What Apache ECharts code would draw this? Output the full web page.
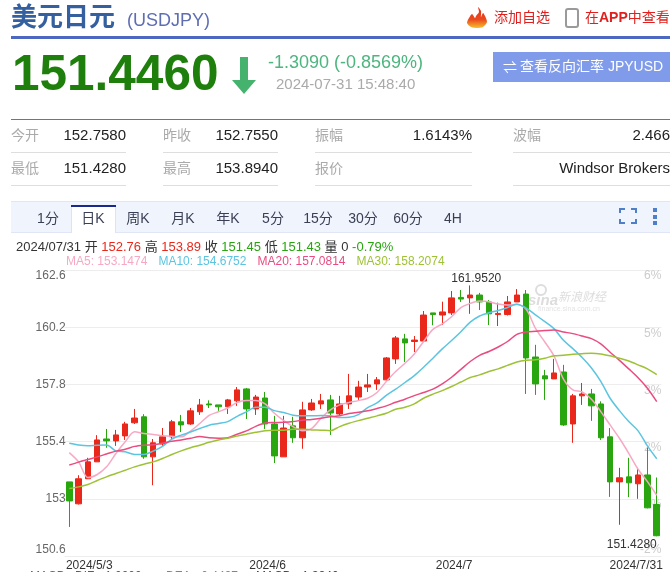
<!DOCTYPE html>
<html><head><meta charset="utf-8">
<style>html,body{margin:0;padding:0;background:#fff;overflow:hidden}#c{width:670px;height:572px}</style>
<script src="https://cdn.jsdelivr.net/npm/echarts@6/dist/echarts.min.js"></script>
</head><body><div id="c"></div>
<script>
const dates=["2024/5/3","2024/5/6","2024/5/7","2024/5/8","2024/5/9","2024/5/10","2024/5/13","2024/5/14","2024/5/15","2024/5/16","2024/5/17","2024/5/20","2024/5/21","2024/5/22","2024/5/23","2024/5/24","2024/5/27","2024/5/28","2024/5/29","2024/5/30","2024/5/31",
"2024/6/3","2024/6/4","2024/6/5","2024/6/6","2024/6/7","2024/6/10","2024/6/11","2024/6/12","2024/6/13","2024/6/14","2024/6/17","2024/6/18","2024/6/19","2024/6/20","2024/6/21","2024/6/24","2024/6/25","2024/6/26","2024/6/27","2024/6/28",
"2024/7/1","2024/7/2","2024/7/3","2024/7/4","2024/7/5","2024/7/8","2024/7/9","2024/7/10","2024/7/11","2024/7/12","2024/7/15","2024/7/16","2024/7/17","2024/7/18","2024/7/19","2024/7/22","2024/7/23","2024/7/24","2024/7/25","2024/7/26","2024/7/29","2024/7/30","2024/7/31"];
const open=[153.71,152.79,153.84,154.55,155.51,155.43,155.64,156.19,156.44,154.76,155.3,155.6,156.23,156.14,156.65,156.98,156.94,156.86,157.11,157.61,156.77,157.23,156.14,154.76,156.06,155.56,156.73,156.98,157.15,156.56,156.98,157.27,157.69,157.82,157.99,158.87,159.71,159.6,159.62,160.8,160.71,160.8,161.45,161.43,161.55,161.26,160.73,160.73,161.26,161.59,158.95,158.16,158.03,158.32,156.14,157.32,157.4,156.98,155.6,153.71,153.92,153.63,154.0,152.76];
const close=[152.91,153.84,154.55,155.47,155.43,155.68,156.14,156.39,154.76,155.35,155.6,156.23,156.1,156.69,156.94,156.94,156.86,157.15,157.57,156.77,157.27,156.14,154.8,155.97,155.56,156.73,157.02,157.11,156.6,156.98,157.32,157.69,157.78,157.99,158.91,159.75,159.54,159.66,160.71,160.73,160.84,161.43,161.38,161.55,161.26,160.76,160.78,161.26,161.55,158.91,157.82,158.03,158.28,156.1,157.32,157.4,156.9,155.56,153.71,153.88,153.67,154.0,152.62,151.45];
const low=[151.82,152.76,153.84,154.55,155.14,155.22,155.47,156.14,154.68,153.57,155.22,155.51,155.8,156.1,156.52,156.81,156.69,156.56,156.9,156.35,156.52,155.93,154.5,154.76,155.35,155.1,156.69,156.77,155.68,156.48,156.77,157.15,157.48,157.57,157.9,158.66,158.74,159.16,159.58,160.28,160.29,160.71,161.26,160.76,160.92,160.29,160.25,160.69,161.26,157.4,157.36,157.15,158.03,156.06,155.35,156.94,156.27,155.47,153.08,151.91,153.07,153.0,152.6,151.428];
const high=[153.71,153.99,154.72,155.67,155.93,155.89,156.23,156.77,156.55,155.51,155.97,156.31,156.52,156.81,157.19,157.13,156.94,157.19,157.69,157.65,157.36,157.48,156.48,156.48,156.44,157.07,157.19,157.4,157.36,157.32,158.24,157.95,158.24,158.11,158.95,159.83,159.92,159.83,160.88,160.8,161.27,161.72,161.76,161.952,161.64,161.34,161.23,161.51,161.8,161.76,159.46,158.41,158.87,158.62,157.4,157.86,157.61,157.09,155.97,154.3,154.72,154.3,155.15,153.894];
const ma5=[154.94,154.55,153.89,154.02,154.34,154.9,155.39,155.81,155.74,155.7,155.65,155.62,155.6,155.84,156.16,156.5,156.65,156.81,157.04,157.12,157.12,156.98,156.59,156.28,156.03,155.86,155.95,156.38,156.73,156.94,157.04,157.12,157.22,157.46,157.92,158.34,158.69,159.08,159.6,160.11,160.34,160.64,161.02,161.2,161.3,161.27,161.17,161.13,161.16,160.95,160.15,159.58,158.98,158.02,157.57,157.48,157.18,156.66,156.1,155.54,154.91,154.24,153.72,153.15];
const ma10=[155.33,155.26,155.23,155.25,155.26,155.01,154.97,154.86,154.86,155.0,155.2,155.5,155.67,155.8,155.95,156.09,156.16,156.24,156.46,156.65,156.84,156.84,156.7,156.62,156.51,156.48,156.48,156.49,156.48,156.41,156.42,156.53,156.83,157.02,157.34,157.6,157.88,158.17,158.52,158.9,159.29,159.64,160.01,160.41,160.67,160.81,160.9,161.03,161.16,161.0,160.72,160.43,160.13,159.65,159.3,158.93,158.49,157.93,157.22,156.7,156.24,155.85,155.22,154.68];
const ma20=[154.42,154.54,154.65,154.76,154.88,155.0,155.08,155.2,155.25,155.27,155.33,155.41,155.47,155.54,155.61,155.56,155.54,155.56,155.71,155.85,156.04,156.18,156.2,156.21,156.24,156.3,156.33,156.38,156.44,156.48,156.58,156.63,156.69,156.79,156.9,157.05,157.18,157.33,157.46,157.6,157.82,158.1,158.43,158.76,159.02,159.18,159.37,159.6,159.9,160.0,160.03,160.06,160.08,160.0,159.93,159.83,159.72,159.5,159.15,158.81,158.45,158.08,157.64,157.08];
const ma30=[153.43,153.5,153.6,153.77,153.92,154.06,154.2,154.34,154.45,154.55,154.69,154.86,155.01,155.14,155.25,155.37,155.47,155.54,155.63,155.71,155.79,155.86,155.88,155.88,155.92,155.92,155.89,155.88,155.86,156.03,156.17,156.28,156.38,156.48,156.59,156.76,156.84,156.98,157.22,157.39,157.54,157.71,157.9,158.09,158.2,158.34,158.45,158.6,158.74,158.81,158.83,158.9,159.0,159.02,159.06,159.09,159.11,159.08,159.0,158.9,158.78,158.62,158.45,158.21];
const yTicks=[150.6,153,155.4,157.8,160.2,162.6];
const pctLabels=["-2%","0%","2%","3%","5%","6%"];
const xLabelMap={"2024/5/3":"2024/5/3","2024/6/3":"2024/6","2024/7/1":"2024/7","2024/7/31":"2024/7/31"};
const gridDates=["2024/6/3","2024/7/1"];
const legendText={MA5:"MA5: 153.1474",MA10:"MA10: 154.6752",MA20:"MA20: 157.0814",MA30:"MA30: 158.2074"};
const maColors={MA5:"#F7A9C4",MA10:"#5BC5E1",MA20:"#EA4C7F",MA30:"#9EC236"};
const tabs=["1分","日K","周K","月K","年K","5分","15分","30分","60分","4H"];
const stats=[["今开","152.7580","昨收","152.7550","振幅","1.6143%","波幅","2.466"],["最低","151.4280","最高","153.8940","报价","","","Windsor Brokers"]];

const FF='"Liberation Sans","Noto Sans CJK SC",sans-serif';
const RED="#E9281B",GREEN="#28A50F";
function t(x,y,text,size,fill,opt){opt=opt||{};return {type:'text',x:x,y:y,silent:true,z:opt.z||5,style:{text:text,fill:fill,font:(opt.weight||'normal')+' '+size+'px '+FF,align:opt.align||'left',verticalAlign:'middle'}};}
function r(x,y,w,h,fill,z){return {type:'rect',silent:true,z:z||1,shape:{x:x,y:y,width:w,height:h},style:{fill:fill}};}
function line(pts,stroke,w){return {type:'polyline',silent:true,z:5,shape:{points:pts},style:{stroke:stroke,lineWidth:w,fill:null}};}

const g=[];
g.push(t(11,19,"美元日元",26,"#34609F",{weight:'bold'}));
g.push(t(127,21,"(USDJPY)",18,"#5F6DB3"));
g.push({type:'polygon',silent:true,z:5,shape:{smooth:0.25,points:[[478,7],[479,12],[476,16],[475,18],[472,14],[469,18],[467,23],[471,27],[477,28],[483,27],[487,22],[485,16],[483,13],[481,17],[481,11]]},
 style:{fill:{type:'linear',x:0,y:0,x2:0,y2:1,colorStops:[{offset:0,color:'#E2341C'},{offset:0.6,color:'#EA4A1E'},{offset:1,color:'#F6C02C'}]}}});
g.push(t(494,18,"添加自选",14,"#E0201E"));
g.push({type:'rect',silent:true,z:5,shape:{x:566,y:9,width:12,height:18,r:2},style:{fill:'#fff',stroke:'#9A9A9A',lineWidth:2}});
g.push({type:'text',x:585,y:18,silent:true,z:5,style:{text:"{a|在}{b|APP}{a|中查看}",verticalAlign:'middle',rich:{a:{fill:'#E0201E',font:'14px '+FF},b:{fill:'#E0201E',font:'bold 14px '+FF}}}});
g.push(r(11,36,659,3,"#4C68C0"));
g.push(t(12,76,"151.4460",49.5,"#1E7F0C",{weight:'bold'}));
g.push({type:'polygon',silent:true,z:5,shape:{points:[[240,57],[248,57],[248,80],[256,80],[244,94],[232,80],[240,80]]},style:{fill:'#45B36E'}});
g.push(t(268,63,"-1.3090 (-0.8569%)",18,"#4DB57E"));
g.push(t(276,85,"2024-07-31 15:48:40",15,"#AAAAAA"));
g.push(r(493,52,177,30,"#7F9BEA"));
g.push(t(503,68,"⇌",14,"#fff"));
g.push(t(520,67,"查看反向汇率 JPYUSD",14,"#fff"));
g.push(r(11,119,659,1,"#5577BB"));
const cols=[[11,65,126],[163,218,278],[315,0,472],[513,0,670]];
[136,169].forEach((y,ri)=>{
  const row=stats[ri];
  cols.forEach((c,ci)=>{
    const lab=row[ci*2],val=row[ci*2+1];
    if(lab) g.push(t(c[0],y,lab,14,"#AAAAAA"));
    if(val) g.push(t(c[2],y,val,15,"#222222",{align:'right'}));
    const lx=c[0],lw=c[2]-c[0];
    g.push(r(lx,ri?185:152,lw,1,"#DEDEDE"));
  });
});
// tab bar
g.push(r(11,201,659,32,"#F0F4FC"));
g.push(r(11,201,659,1,"#E0E6F5"));
g.push(r(11,232,659,1,"#E0E6F5"));
g.push(r(71,205,45,28,"#FFFFFF",2));
g.push(r(71,205,1,28,"#DDE3F2",2));
g.push(r(115,205,1,28,"#DDE3F2",2));
g.push(r(71,205,45,2,"#1A2A8C",3));
tabs.forEach((s,i)=>g.push(t(48+45*i,219,s,14,"#3A3F55",{align:'center'})));
const ic="#4F7FC8";
g.push(line([[620,213],[620,209],[625,209]],ic,2));
g.push(line([[631,209],[636,209],[636,213]],ic,2));
g.push(line([[620,219],[620,223],[625,223]],ic,2));
g.push(line([[631,223],[636,223],[636,219]],ic,2));
[208,215,221].forEach(y=>g.push(r(653,y,4,4,ic,3)));
// OHLC line
g.push({type:'text',x:16,y:247,silent:true,z:5,style:{verticalAlign:'middle',
 text:"{d|2024/07/31 开 }{r|152.76}{d| 高 }{r|153.89}{d| 收 }{g|151.45}{d| 低 }{g|151.43}{d| 量 0 }{g|-0.79%}",
 rich:{d:{fill:'#333',font:'13px '+FF},r:{fill:RED,font:'13px '+FF},g:{fill:GREEN,font:'13px '+FF}}}});
// watermark
g.push({type:'circle',silent:true,z:0,shape:{cx:541,cy:290,r:5},style:{fill:null,stroke:'#DDDDDD',lineWidth:2}});
g.push({type:'text',x:528,y:301,silent:true,z:0,style:{text:"sina",fill:"#DDDDDD",font:'italic bold 15px '+FF,verticalAlign:'middle'}});
g.push({type:'text',x:558,y:298,silent:true,z:0,style:{text:"新浪财经",fill:"#DDDDDD",font:'italic 12px '+FF,verticalAlign:'middle'}});
g.push({type:'text',x:538,y:309,silent:true,z:0,style:{text:"finance.sina.com.cn",fill:"#E4E4E4",font:'7px '+FF,verticalAlign:'middle'}});
// cropped indicator row
[[30,"MACD","#666666"],[75,"DIF: -1.0000","#3F51E0"],[166,"DEA: -0.4497","#E040E8"],[256,"MACD: -1.3340","#A02020"]].forEach(a=>{
  g.push({type:'text',x:a[0],y:571,silent:true,z:5,style:{text:a[1],fill:a[2],font:'12px '+FF,verticalAlign:'top'}});
});

const isLabel=(i,v)=>v in xLabelMap;
const isGrid=(i,v)=>gridDates.indexOf(v)>=0;
const labelStyleKey={"2024/5/3":"first","2024/6/3":"mid","2024/7/1":"mid","2024/7/31":"last"};
const maSeries=(name,data)=>({name:name,type:'line',data:data,showSymbol:false,symbol:'none',smooth:0.3,z:3,silent:true,lineStyle:{width:1.5,color:maColors[name]},itemStyle:{color:maColors[name]}});

const chart=echarts.init(document.getElementById('c'),null,{renderer:'canvas',width:670,height:572});
chart.setOption({
 animation:false,
 textStyle:{fontFamily:FF},
 graphic:{elements:g},
 legend:{left:61,top:256,icon:'none',itemWidth:0,itemHeight:0,itemGap:6,selectedMode:false,padding:0,
  data:Object.keys(legendText).map(n=>({name:n,textStyle:{color:maColors[n],fontSize:12,fontFamily:FF}})),
  formatter:n=>legendText[n]},
 grid:{left:64.6,right:8.6,top:270,bottom:16,containLabel:false},
 xAxis:{type:'category',data:dates,boundaryGap:true,
  axisLine:{show:false},axisTick:{show:false,alignWithLabel:true,interval:isGrid},
  splitLine:{show:true,interval:isGrid,alignWithLabel:true,showMinLine:false,showMaxLine:false,lineStyle:{color:'#EDEDED',width:1}},
  axisLabel:{interval:isLabel,formatter:v=>xLabelMap[v]?'{'+labelStyleKey[v]+'|'+xLabelMap[v]+'}':'',color:'#333',fontSize:12,margin:4,showMinLabel:true,showMaxLabel:true,hideOverlap:false,
   rich:{first:{color:'#333',fontSize:12,padding:[0,0,0,40]},mid:{color:'#333',fontSize:12,padding:[0,0,0,5]},last:{color:'#333',fontSize:12,padding:[0,41,0,0]}}}},
 yAxis:[
  {type:'value',min:150.6,max:162.6,position:'left',scale:true,
   axisLine:{show:false},axisTick:{show:false,customValues:yTicks},
   splitLine:{show:true,lineStyle:{color:'#EDEDED',width:1}},
   axisLabel:{customValues:yTicks,color:'#666',fontSize:12,margin:-1,verticalAlign:'middle',verticalAlignMinLabel:'bottom',verticalAlignMaxLabel:'top',showMinLabel:true,showMaxLabel:true}},
  {type:'value',min:150.6,max:162.6,position:'right',scale:true,
   axisLine:{show:false},axisTick:{show:false,customValues:yTicks},splitLine:{show:false},
   axisLabel:{inside:true,customValues:yTicks,formatter:v=>pctLabels[yTicks.indexOf(v)],color:'#CCCCCC',fontSize:12,margin:0,verticalAlign:'top',verticalAlignMinLabel:'bottom',verticalAlignMaxLabel:'top',showMinLabel:true,showMaxLabel:true}}
 ],
 series:[
  {name:'K',type:'candlestick',barWidth:6,z:2,silent:true,
   data:dates.map((d,i)=>[open[i],close[i],low[i],high[i]]),
   itemStyle:{color:RED,color0:GREEN,borderColor:RED,borderColor0:GREEN,borderWidth:1},
   markPoint:{symbol:'circle',symbolSize:0,silent:true,z:6,
    data:[
     {coord:[dates[high.indexOf(Math.max(...high))],Math.max(...high)],label:{show:true,formatter:Math.max(...high).toFixed(4),color:'#333',fontSize:12,offset:[6,-7]}},
     {coord:[dates[low.indexOf(Math.min(...low))],Math.min(...low)],label:{show:true,formatter:Math.min(...low).toFixed(4),color:'#333',fontSize:12,offset:[-25,8]}}
    ]}},
  maSeries('MA5',ma5),maSeries('MA10',ma10),maSeries('MA20',ma20),maSeries('MA30',ma30)
 ]
});
</script></body></html>
